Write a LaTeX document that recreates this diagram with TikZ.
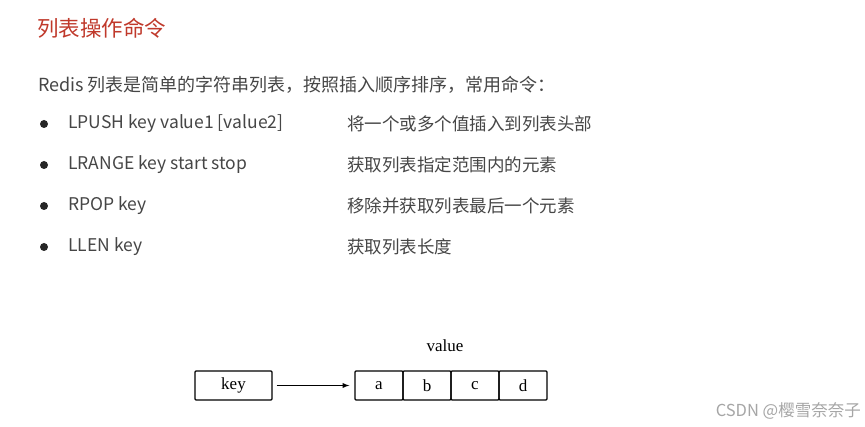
\documentclass[tikz,border=0pt]{standalone}
\usepackage{fontspec}
\setmainfont{Noto Sans CJK SC}
\newfontfamily\serifx{Liberation Serif}
\definecolor{titlered}{RGB}{192,57,43}
\definecolor{bodygrey}{RGB}{70,70,70}
\begin{document}
\begin{tikzpicture}[x=1pt,y=-1pt,
  body/.style={anchor=west,inner sep=0pt,text=bodygrey,font=\fontsize{17.5}{19}\selectfont},
  dotb/.style={circle,fill=black!85,inner sep=0pt,minimum size=8pt},
  cell/.style={draw,line width=1.3pt,rounded corners=1pt,minimum height=29pt,inner sep=0pt,font=\serifx\fontsize{17}{18}\selectfont},
  ]
\useasboundingbox[fill=white] (0,0) rectangle (865,427);
\node[anchor=west,inner sep=0pt,text=titlered,font=\fontsize{21.5}{24}\selectfont] (title) at (37,28) {列表操作命令};
\node[body,font=\fontsize{18}{20}\selectfont] (intro) at (38,85) {Redis 列表是简单的字符串列表，按照插入顺序排序，常用命令：};
\foreach \y/\c/\d [count=\i] in {124/{LPUSH key value1 [value2]}/将一个或多个值插入到列表头部,
  165/{LRANGE key start stop}/获取列表指定范围内的元素,
  206/{RPOP key}/移除并获取列表最后一个元素,
  247/{LLEN key}/获取列表长度}{
  \node[dotb] (b\i) at (44,\y) {};
  \node[body] (c\i) at (68,\y) {\c};
  \node[body] (d\i) at (347,\y) {\d};
}
\node[cell,minimum width=77pt] (key) at (233.5,385.5) {key};
\node[cell,minimum width=48pt] (va) at (379,385.5) {a};
\node[cell,minimum width=48pt] (vb) at (427,385.5) {b};
\node[cell,minimum width=48pt] (vc) at (475,385.5) {c};
\node[cell,minimum width=48pt] (vd) at (523,385.5) {d};
\node[font=\serifx\fontsize{17}{18}\selectfont,inner sep=0pt] (vlabel) at (445,346) {value};
\draw[line width=1.3pt,-latex] (key.east) ++(4,0) coordinate (s) -- ([xshift=-5pt]va.west);
\node[anchor=east,inner sep=0pt,text=black!35,font=\fontsize{16.5}{18}\selectfont] (wm) at (861,411) {CSDN @樱雪奈奈子};
\end{tikzpicture}
\end{document}
